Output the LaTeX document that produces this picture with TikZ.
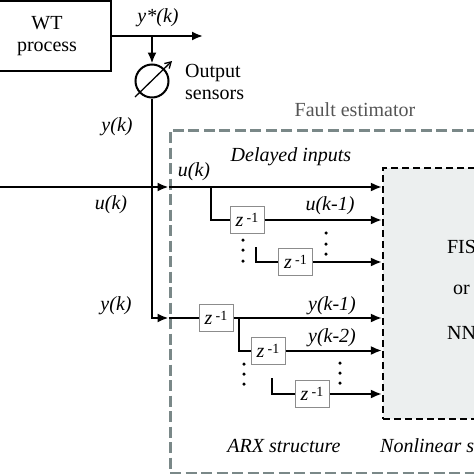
\documentclass[tikz,border=0pt]{standalone}
\usepackage{fontspec}
\setmainfont{Liberation Serif}
\usetikzlibrary{arrows.meta}
\begin{document}
\begin{tikzpicture}[x=1pt,y=-1pt,
  txt/.style={font=\fontsize{20}{22}\selectfont, inner sep=0pt, align=center},
  lbl/.style={font=\fontsize{20}{22}\selectfont\itshape, inner sep=0pt},
  wire/.style={line width=2pt, black},
  arr/.style={wire, -{Latex[length=11pt,width=9pt]}},
  zbox/.style={draw=black!45, line width=1pt, minimum width=34pt, minimum height=27pt, inner sep=0pt, fill=white, font=\fontsize{20}{22}\selectfont},
  dotc/.style={circle, fill=black, inner sep=0pt, minimum size=3.5pt},
  gbox/.style={draw={rgb,255:red,122;green,136;blue,136}, line width=3pt, dash pattern=on 11pt off 4.5pt},
  nbox/.style={draw=black, fill={rgb,255:red,236;green,239;blue,239}, line width=2.2pt, dash pattern=on 7pt off 4pt}
]
\useasboundingbox (0,0) rectangle (474,474);
\clip (0,0) rectangle (474,474);
\newcommand{\zinv}{\textit{z}\,\raisebox{0.45ex}{\fontsize{14}{14}\selectfont -1}}

% boxes
\node[gbox, minimum width=370pt, minimum height=343pt] (fe) at (355,301.5) {};
\node[nbox, minimum width=157pt, minimum height=251pt] (nl) at (461.5,293.5) {};
\node[draw, line width=2pt, minimum width=128pt, minimum height=70pt, txt] (wt) at (47,36) {WT\\process};
\node[circle, draw, line width=2pt, minimum size=33pt, inner sep=0pt] (sens) at (152,81) {};

% delay boxes
\node[zbox] (z1) at (247,220) {\zinv};
\node[zbox] (z2) at (295.5,262) {\zinv};
\node[zbox] (z3) at (216,318) {\zinv};
\node[zbox] (z4) at (268,350.5) {\zinv};
\node[zbox] (z5) at (312,394) {\zinv};

% coordinates
\coordinate (yend) at (203,36);
\coordinate (b1) at (152,36);
\coordinate (sa) at (135,97);
\coordinate (sb) at (172,61);
\coordinate (uin) at (-5,187);
\coordinate (ub1) at (211,187);
\coordinate (ub2) at (256,247);
\coordinate (yb1) at (239,318);
\coordinate (yb2) at (272,378);

% wires
\draw[arr] (wt.east) -- (yend);
\draw[arr] (b1) -- (sens.north);
\draw[line width=1.3pt, -{Straight Barb[length=6pt,width=7pt]}] (sa) -- (sb);
\draw[arr] (sens.south) |- (z3.west -| fe.west);
\draw[wire] (z3.west -| fe.west) -- (z3.west);
\draw[arr] (uin) -- (uin -| fe.west);
\draw[arr] (uin -| fe.west) -- (uin -| nl.west);
\draw[wire] (ub1) |- (z1.west);
\draw[arr] (z1.east) -- (z1.east -| nl.west);
\draw[wire] (ub2) |- (z2.west);
\draw[arr] (z2.east) -- (z2.east -| nl.west);
\draw[arr] (z3.east) -- (z3.east -| nl.west);
\draw[wire] (yb1) |- (z4.west);
\draw[arr] (z4.east) -- (z4.east -| nl.west);
\draw[wire] (yb2) |- (z5.west);
\draw[arr] (z5.east) -- (z5.east -| nl.west);

% dots
\foreach \n/\x/\y in {d1/243/240, d2/243/250, d3/243/261,
                      d4/326/233, d5/326/244, d6/326/254,
                      d7/244/364, d8/244/374, d9/244/384,
                      d10/340/363, d11/340/373, d12/340/383}
  \node[dotc] (\n) at (\x,\y) {};

% labels
\node[lbl] (lys) at (158,18) {y*(k)};
\node[txt, align=left, anchor=west] (los) at (185,82) {Output\\sensors};
\node[lbl] (ly1) at (117,127) {y(k)};
\node[lbl] (lu1) at (111,205) {u(k)};
\node[lbl] (lu2) at (194,172) {u(k)};
\node[lbl] (ly2) at (116,306) {y(k)};
\node[txt, text={rgb,255:red,85;green,85;blue,85}] (lfe) at (355,110) {Fault estimator};
\node[lbl] (ldi) at (291,157) {Delayed inputs};
\node[lbl] (luk1) at (330,206) {u(k-1)};
\node[lbl] (lyk1) at (332,306) {y(k-1)};
\node[lbl] (lyk2) at (332,338) {y(k-2)};
\node[lbl] (larx) at (284,446) {ARX structure};
\node[lbl, anchor=west] (lnl) at (380,446) {Nonlinear structure};
\node[txt] (lfis) at (461.5,247) {FIS};
\node[txt] (lor) at (461.5,290) {or};
\node[txt] (lnn) at (461.5,333) {NN};
\end{tikzpicture}
\end{document}
